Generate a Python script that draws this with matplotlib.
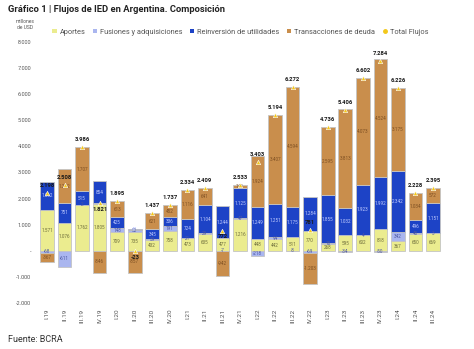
import numpy as np
import matplotlib
matplotlib.use("Agg")
import matplotlib.pyplot as plt
from matplotlib.lines import Line2D
from matplotlib.patches import Patch

plt.rcParams['font.family'] = ['Roboto', 'DejaVu Sans']

quarters = ["I.19", "II.19", "III.19", "IV.19", "I.20", "II.20", "III.20", "IV.20",
            "I.21", "II.21", "III.21", "IV.21", "I.22", "II.22", "III.22", "IV.22",
            "I.23", "II.23", "III.23", "IV.23", "I.24", "II.24", "III.24"]
aportes = [1571, 1076, 1762, 1805, 709, 735, 432, 758, 473, 635, 477, 1216,
           448, 442, 511, 770, 268, 595, 602, 818, 367, 650, 669]
fusiones = [-68, -611, 2, 8, 148, 52, 39, 191, 21, 29, -7, 47,
            -218, 94, -8, -69, 18, -34, 4, -50, 342, 48, 3]
reinversion = [1062, 751, 515, 854, 425, 47, 345, 336, 724, 1104, 1244, 1125,
               1249, 1251, 1175, 1284, 1855, 1032, 1923, 1992, 2342, 496, 1151]
deuda = [-367, 1292, 1707, -846, 613, -857, 621, 452, 1116, 641, -942, 145,
         1924, 3407, 4594, -1203, 2595, 3813, 4073, 4524, 3175, 1034, 572]
total = [2198, 2508, 3986, 1821, 1895, -23, 1437, 1737, 2334, 2409, 772, 2533,
         3403, 5194, 6272, 781, 4736, 5406, 6602, 7284, 6226, 2228, 2395]
yticks = [-2000, -1000, 0, 1000, 2000, 3000, 4000, 5000, 6000, 7000, 8000]

series = [("Aportes", aportes, "#ebec8f", "#6e6e3c"),
          ("Fusiones y adquisiciones", fusiones, "#aab6ef", "#4a55a0"),
          ("Reinversión de utilidades", reinversion, "#1d43c6", "#c3cdff"),
          ("Transacciones de deuda", deuda, "#c98e4c", "#7d4f22")]

def fmt(v):
    s = f"{abs(int(round(v))):,}".replace(",", ".")
    return ("-" if v < 0 else "") + s

fig = plt.figure(figsize=(4.74, 3.49), dpi=100)
ax = fig.add_axes([0.077, 0.1318, 0.8587, 0.7479])

x = np.arange(len(quarters))
pos = np.zeros(len(x))
neg = np.zeros(len(x))
w = 0.78
centers = [[] for _ in x]
for name, vals, col, tcol in series:
    v = np.array(vals, dtype=float)
    bottom = np.where(v >= 0, pos, neg)
    ax.bar(x, v, w, bottom=bottom, color=col, edgecolor="#c4c4c4", linewidth=0.6, zorder=2)
    for i, (xi, vi, bi) in enumerate(zip(x, v, bottom)):
        ax.text(xi, bi + vi / 2, fmt(vi), ha="center", va="center", fontsize=3.3,
                color=tcol, zorder=4)
        if abs(vi) >= 100:
            centers[i].append(bi + vi / 2)
    pos = pos + np.where(v >= 0, v, 0)
    neg = neg + np.where(v < 0, v, 0)

tot = np.array(total, dtype=float)
ax.plot(x, tot, linestyle="none", marker="^", ms=3.2, mfc="#f3c81a", mec="white",
        mew=0.4, zorder=5)
for i, (xi, t) in enumerate(zip(x, tot)):
    ly = t + 290
    if any(abs(ly - c) < 200 for c in centers[i]):
        ly = t - 240
    ax.text(xi, ly, fmt(t), ha="center", va="center", fontsize=4.2,
            fontweight="bold", color="#1a1a1a", zorder=6)

ax.set_xlim(-0.6, len(x) - 0.4)
ax.set_ylim(-2000, 8000)
ax.set_yticks(yticks)
ax.set_yticklabels(["-" if t == 0 else fmt(t) for t in yticks], fontsize=4, color="#555555")
ax.set_xticks(x)
ax.set_xticklabels(quarters, rotation=90, fontsize=4.6, color="#555555")
ax.tick_params(length=0, pad=4)
for s in ax.spines.values():
    s.set_visible(False)

fig.text(0.017, 0.972, "Gráfico 1 | Flujos de IED en Argentina. Composición",
         fontsize=6.75, fontweight="bold", color="#222222", va="center", ha="left")
fig.text(0.053, 0.93, "millones\nde USD", fontsize=3.6, color="#555555",
         va="center", ha="center", linespacing=1.3)
fig.text(0.017, 0.028, "Fuente: BCRA", fontsize=6.5, color="#333333", va="center", ha="left")

handles = [Patch(facecolor=c, edgecolor="none", label=n) for n, _, c, _ in series]
handles.append(Line2D([], [], linestyle="none", marker="o", ms=2.5, mfc="#f3c81a",
                      mec="#f3c81a", label="Total Flujos"))
fig.legend(handles=handles, loc="center", bbox_to_anchor=(0.507, 0.908), ncol=5,
           frameon=False, fontsize=5.35, labelcolor="#555555", handlelength=0.6,
           handleheight=0.6, handletextpad=0.4, columnspacing=1.0)

fig.savefig("out.png", dpi=100, facecolor="white")
